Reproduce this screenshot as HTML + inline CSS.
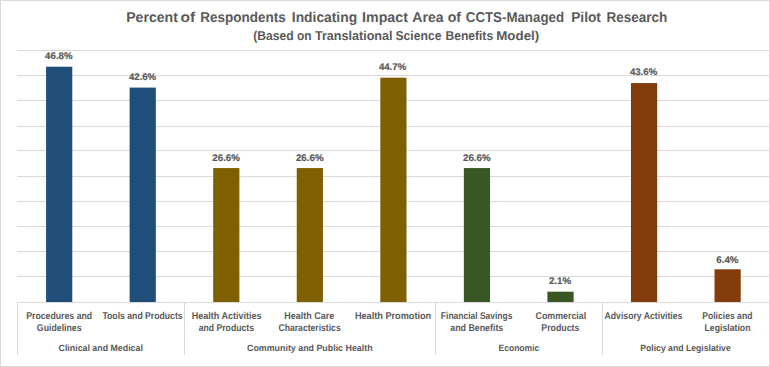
<!DOCTYPE html>
<html><head><meta charset="utf-8"><style>
html,body{margin:0;padding:0;background:#fff;}
body{width:770px;height:367px;overflow:hidden;}
svg{display:block;}
text{text-rendering:geometricPrecision;font-family:"Liberation Sans",sans-serif;font-weight:bold;fill:#595959;}
text.d{stroke:#595959;stroke-width:0.2px;}
</style></head><body>
<svg width="770" height="367" viewBox="0 0 770 367">
<rect x="0.5" y="0.5" width="769" height="366" fill="#fff" stroke="#d9d9d9" stroke-width="1"/>
<g stroke="#d9d9d9" stroke-width="1">
<line x1="17" y1="50.50" x2="769" y2="50.50"/>
<line x1="17" y1="75.50" x2="769" y2="75.50"/>
<line x1="17" y1="100.50" x2="769" y2="100.50"/>
<line x1="17" y1="126.50" x2="769" y2="126.50"/>
<line x1="17" y1="150.50" x2="769" y2="150.50"/>
<line x1="17" y1="176.50" x2="769" y2="176.50"/>
<line x1="17" y1="201.50" x2="769" y2="201.50"/>
<line x1="17" y1="226.50" x2="769" y2="226.50"/>
<line x1="17" y1="251.50" x2="769" y2="251.50"/>
<line x1="17" y1="276.50" x2="769" y2="276.50"/>
</g>
<rect x="46.08" y="66.70" width="26.2" height="235.30" fill="#1F4E79"/>
<rect x="129.63" y="87.60" width="26.2" height="214.40" fill="#1F4E79"/>
<rect x="213.19" y="168.05" width="26.2" height="133.95" fill="#7F6000"/>
<rect x="296.74" y="168.05" width="26.2" height="133.95" fill="#7F6000"/>
<rect x="380.30" y="77.70" width="26.2" height="224.30" fill="#7F6000"/>
<rect x="463.86" y="168.05" width="26.2" height="133.95" fill="#385723"/>
<rect x="547.41" y="291.70" width="26.2" height="10.30" fill="#385723"/>
<rect x="630.97" y="83.05" width="26.2" height="218.95" fill="#843C0C"/>
<rect x="714.52" y="269.30" width="26.2" height="32.70" fill="#843C0C"/>
<g stroke="#d9d9d9" stroke-width="1">
<line x1="17" y1="302.5" x2="769" y2="302.5"/>
<line x1="17.5" y1="302" x2="17.5" y2="355"/>
<line x1="184.5" y1="302" x2="184.5" y2="355"/>
<line x1="435.5" y1="302" x2="435.5" y2="355"/>
<line x1="602.5" y1="302" x2="602.5" y2="355"/>
</g>
<text transform="translate(126.22,21.5) scale(0.9855,1)" font-size="14.29">Percent</text>
<text transform="translate(180.52,21.5) scale(1.0841,1)" font-size="14.29">of</text>
<text transform="translate(200.26,21.5) scale(0.9437,1)" font-size="14.29">Respondents</text>
<text transform="translate(291.84,21.5) scale(0.9672,1)" font-size="14.29">Indicating</text>
<text transform="translate(362.01,21.5) scale(0.9982,1)" font-size="14.29">Impact</text>
<text transform="translate(412.28,21.5) scale(0.9831,1)" font-size="14.29">Area</text>
<text transform="translate(447.76,21.5) scale(0.9856,1)" font-size="14.29">of</text>
<text transform="translate(465.78,21.5) scale(0.9309,1)" font-size="14.29">CCTS-Managed</text>
<text transform="translate(571.14,21.5) scale(0.9637,1)" font-size="14.29">Pilot</text>
<text transform="translate(606.56,21.5) scale(0.9435,1)" font-size="14.29">Research</text>
<text transform="translate(253.33,39.8) scale(0.9410,1)" font-size="12.86">(Based</text>
<text transform="translate(297.03,39.8) scale(0.9262,1)" font-size="12.86">on</text>
<text transform="translate(314.90,39.8) scale(0.9790,1)" font-size="12.86">Translational</text>
<text transform="translate(395.41,39.8) scale(0.9463,1)" font-size="12.86">Science</text>
<text transform="translate(445.45,39.8) scale(0.9393,1)" font-size="12.86">Benefits</text>
<text transform="translate(496.27,39.8) scale(1.0360,1)" font-size="12.86">Model)</text>
<text class="d" transform="translate(45.10,58.7) scale(1.0147,1)" font-size="9.57">46.8%</text>
<text class="d" transform="translate(129.00,80) scale(0.9999,1)" font-size="9.57">42.6%</text>
<text class="d" transform="translate(212.29,160.5) scale(1.0204,1)" font-size="9.57">26.6%</text>
<text class="d" transform="translate(295.89,160.5) scale(1.0223,1)" font-size="9.57">26.6%</text>
<text class="d" transform="translate(378.90,69.9) scale(1.0073,1)" font-size="9.57">44.7%</text>
<text class="d" transform="translate(463.00,160.5) scale(1.0185,1)" font-size="9.57">26.6%</text>
<text class="d" transform="translate(548.90,284) scale(1.0196,1)" font-size="9.57">2.1%</text>
<text class="d" transform="translate(629.90,74.9) scale(1.0073,1)" font-size="9.57">43.6%</text>
<text class="d" transform="translate(716.30,262.6) scale(1.0196,1)" font-size="9.57">6.4%</text>
<text transform="translate(26.20,318.8) scale(0.8866,1)" font-size="9.86">Procedures and</text>
<text transform="translate(36.83,330.5) scale(0.8896,1)" font-size="9.86">Guidelines</text>
<text transform="translate(102.40,318.8) scale(0.8803,1)" font-size="9.86">Tools and Products</text>
<text transform="translate(191.64,318.8) scale(0.9171,1)" font-size="9.86">Health Activities</text>
<text transform="translate(198.66,330.5) scale(0.8794,1)" font-size="9.86">and Products</text>
<text transform="translate(284.34,318.8) scale(0.9106,1)" font-size="9.86">Health Care</text>
<text transform="translate(278.53,330.5) scale(0.8735,1)" font-size="9.86">Characteristics</text>
<text transform="translate(354.93,318.8) scale(0.9290,1)" font-size="9.86">Health Promotion</text>
<text transform="translate(440.87,318.8) scale(0.8596,1)" font-size="9.86">Financial Savings</text>
<text transform="translate(450.26,330.5) scale(0.8976,1)" font-size="9.86">and Benefits</text>
<text transform="translate(535.52,318.8) scale(0.8985,1)" font-size="9.86">Commercial</text>
<text transform="translate(541.35,330.5) scale(0.8896,1)" font-size="9.86">Products</text>
<text transform="translate(604.56,318.8) scale(0.8810,1)" font-size="9.86">Advisory Activities</text>
<text transform="translate(702.26,318.8) scale(0.8725,1)" font-size="9.86">Policies and</text>
<text transform="translate(704.56,330.5) scale(0.8835,1)" font-size="9.86">Legislation</text>
<text transform="translate(58.52,350.8) scale(0.9669,1)" font-size="9.14">Clinical and Medical</text>
<text transform="translate(247.02,350.8) scale(0.9712,1)" font-size="9.14">Community and Public Health</text>
<text transform="translate(498.46,350.8) scale(0.9372,1)" font-size="9.14">Economic</text>
<text transform="translate(640.16,350.8) scale(0.9501,1)" font-size="9.14">Policy and Legislative</text>
</svg>
</body></html>
